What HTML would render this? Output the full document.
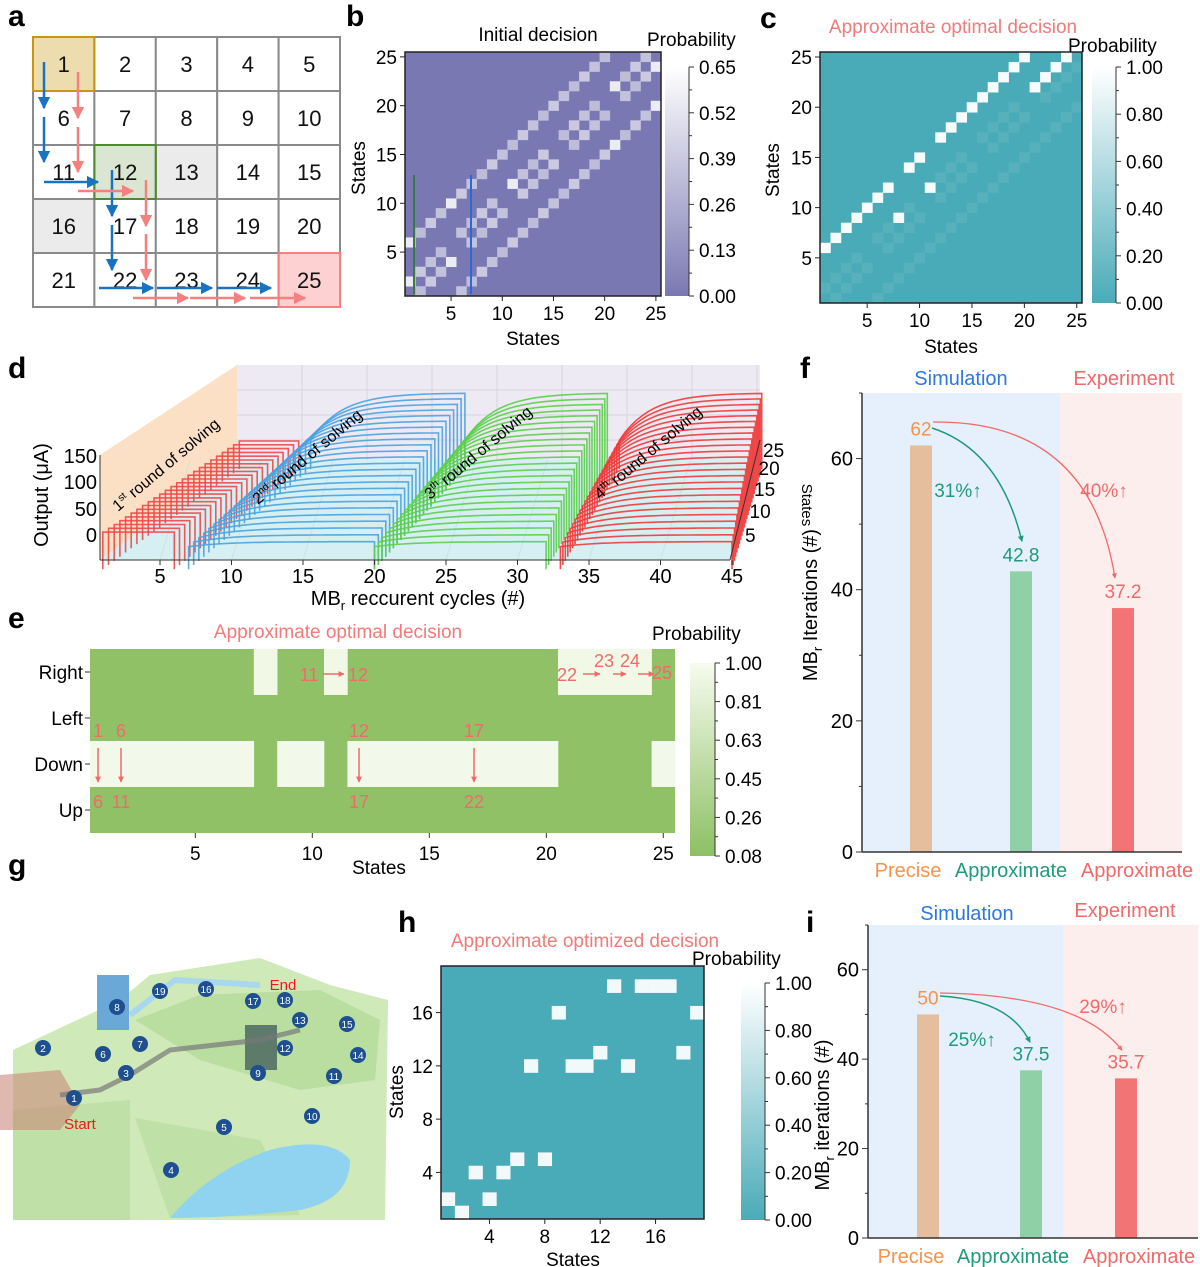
<!DOCTYPE html>
<html><head><meta charset="utf-8">
<style>
html,body{margin:0;padding:0;background:#fff}
svg{display:block;font-family:"Liberation Sans",Arial,sans-serif}
</style></head>
<body>
<svg id="fig" width="1200" height="1267" viewBox="0 0 1200 1267" xmlns="http://www.w3.org/2000/svg">
<defs>
<marker id="ab" viewBox="0 0 10 10" refX="9" refY="5" markerWidth="5" markerHeight="5" orient="auto"><path d="M0,0 L10,5 L0,10 z" fill="#1a73c0"/></marker>
<marker id="ap" viewBox="0 0 10 10" refX="9" refY="5" markerWidth="5" markerHeight="5" orient="auto"><path d="M0,0 L10,5 L0,10 z" fill="#f58080"/></marker>
<marker id="ag" viewBox="0 0 10 10" refX="9" refY="5" markerWidth="4" markerHeight="4" orient="auto"><path d="M0,0 L10,5 L0,10 z" fill="#1f9a7a"/></marker>
<marker id="ar" viewBox="0 0 10 10" refX="9" refY="5" markerWidth="4" markerHeight="4" orient="auto"><path d="M0,0 L10,5 L0,10 z" fill="#f06a6a"/></marker>
<linearGradient id="cbB" x1="0" y1="0" x2="0" y2="1"><stop offset="0" stop-color="#ffffff"/><stop offset="1" stop-color="#7a78b2"/></linearGradient>
<linearGradient id="cbC" x1="0" y1="0" x2="0" y2="1"><stop offset="0" stop-color="#ffffff"/><stop offset="1" stop-color="#4aabb8"/></linearGradient>
<linearGradient id="cbE" x1="0" y1="0" x2="0" y2="1"><stop offset="0" stop-color="#f7fbef"/><stop offset="1" stop-color="#8dc063"/></linearGradient>
</defs>

<g font-weight="bold" font-size="30" fill="#000">
<text x="8" y="26">a</text>
<text x="346" y="26">b</text>
<text x="760" y="28">c</text>
<text x="8" y="378">d</text>
<text x="8" y="628">e</text>
<text x="800" y="378">f</text>
<text x="8" y="875">g</text>
<text x="398" y="932">h</text>
<text x="806" y="932">i</text>
</g>

<g id="panelA"></g>
<g id="panelB"></g>
<g id="panelC"></g>
<g id="panelD"></g>
<g id="panelE"></g>
<g id="panelF"></g>
<g id="panelG"></g>
<g id="panelH"></g>
<g id="panelI"></g>
</svg>
<script>
const bPattern = [[2,1],[1,2],[3,2],[2,3],[4,3],[3,4],[5,4],[4,5]];
const bBright = [[1,6],[5,10],[1,2],[5,4],[11,12],[21,22],[25,24],[21,16],[25,20]];
const cBright = [[1,6],[2,7],[3,8],[4,9],[5,10],[6,11],[7,12],[8,9],[11,12],[9,14],[10,15],[12,17],[13,18],[14,19],[15,20],[16,21],[17,22],[18,23],[19,24],[20,25],[21,22],[22,23],[23,24],[24,25]];
const hCells = [[2,1],[1,2],[4,2],[3,4],[5,4],[6,5],[8,5],[7,12],[10,12],[11,12],[14,12],[12,13],[18,13],[9,16],[19,16],[13,18],[15,18],[16,18],[17,18]];
const eRight = [8,11,21,22,23,24];
const eDown = [1,2,3,4,5,6,7,9,10,12,13,14,15,16,17,18,19,20,25];
const fCats = ["Precise","Approximate","Approximate"];
const fVals = [62,42.8,37.2];
const iVals = [50,37.5,35.7];
const yTicksF = [0,20,40,60];
const yTicksI = [0,20,40,60];
const dRoundStart = [1,7,20,33];
const dRoundEnd = [6,20,32,45];
const dRoundAmp = [30,150,150,150];
const dXTicks = [5,10,15,20,25,30,35,40,45];

const NS="http://www.w3.org/2000/svg";
function mk(parent,tag,attrs,text){const e=document.createElementNS(NS,tag);for(const k in attrs)e.setAttribute(k,attrs[k]);if(text!==undefined)e.textContent=text;parent.appendChild(e);return e;}
function lerpColor(a,b,t){const pa=[1,3,5].map(i=>parseInt(a.substr(i,2),16)),pb=[1,3,5].map(i=>parseInt(b.substr(i,2),16));return "rgb("+pa.map((v,i)=>Math.round(v+(pb[i]-v)*t)).join(",")+")";}

(function(){
 const g=document.getElementById('panelA');
 const x0=33,y0=37,cw=61.4,ch=54;
 const fills={1:"#ecdcae",12:"#dbe6d2",13:"#ebebeb",16:"#ebebeb",25:"#fdd0d2"};
 for(let r=0;r<5;r++)for(let c=0;c<5;c++){
  const n=r*5+c+1;
  const rc=mk(g,'rect',{x:x0+c*cw,y:y0+r*ch,width:cw,height:ch,fill:fills[n]||"#fff",stroke:"#8a8a8a","stroke-width":2});
  
  mk(g,'text',{x:x0+c*cw+cw/2,y:y0+r*ch+ch/2+8,"text-anchor":"middle","font-size":22,fill:"#111"},n);
 }
 mk(g,'rect',{x:x0,y:y0,width:cw,height:ch,fill:"none",stroke:"#c8960f","stroke-width":2});
 mk(g,'rect',{x:x0+cw,y:y0+2*ch,width:cw,height:ch,fill:"none",stroke:"#4f8a30","stroke-width":2});
 mk(g,'rect',{x:x0+4*cw,y:y0+4*ch,width:cw,height:ch,fill:"none",stroke:"#f58080","stroke-width":2});
 const blue=[[44,62,44,108],[44,117,44,162],[44,182,98,182],[112,170,112,216],[112,225,112,270],[99,288,153,288],[157,288,212,288],[217,288,271,288]];
 const pink=[[78,72,78,118],[78,127,78,172],[78,191,133,191],[146,180,146,226],[146,234,146,280],[133,298,188,298],[190,298,245,298],[250,298,305,298]];
 blue.forEach(s=>mk(g,'line',{x1:s[0],y1:s[1],x2:s[2],y2:s[3],stroke:"#1a73c0","stroke-width":2.5,"marker-end":"url(#ab)"}));
 pink.forEach(s=>mk(g,'line',{x1:s[0],y1:s[1],x2:s[2],y2:s[3],stroke:"#f58080","stroke-width":2.5,"marker-end":"url(#ap)"}));
})();

function heat(g,n,px,py,pw,ph,cells,c0,c1,bg,name){
 mk(g,'rect',{x:px,y:py,width:pw,height:ph,fill:bg});
 const cw=pw/n,chh=ph/n;
 cells.forEach(([c,r,v])=>{
  const e=mk(g,'rect',{x:px+(c-1)*cw,y:py+ph-r*chh,width:cw+0.3,height:chh+0.3,fill:lerpColor(c0,c1,v)});
  
 });
 mk(g,'rect',{x:px,y:py,width:pw,height:ph,fill:"none",stroke:"#222","stroke-width":1.5});
}
function axisTicks(g,px,py,pw,ph,n,xt,yt,fs){
 const cw=pw/n,chh=ph/n;
 xt.forEach(t=>{const x=px+(t-0.5)*cw;mk(g,'line',{x1:x,y1:py+ph,x2:x,y2:py+ph+5,stroke:"#222"});mk(g,'text',{x:x,y:py+ph+24,"text-anchor":"middle","font-size":fs},t);});
 yt.forEach(t=>{const y=py+ph-(t-0.5)*chh;mk(g,'line',{x1:px-5,y1:y,x2:px,y2:y,stroke:"#222"});mk(g,'text',{x:px-8,y:y+7,"text-anchor":"end","font-size":fs},t);});
}
function colorbar(g,x,y,w,h,grad,labels,fs){
 mk(g,'rect',{x:x,y:y,width:w,height:h,fill:"url(#"+grad+")"});
 mk(g,'line',{x1:x+w,y1:y,x2:x+w,y2:y+h,stroke:"#333"});
 labels.forEach((l,i)=>{const yy=y+h*i/(labels.length-1);mk(g,'line',{x1:x+w,y1:yy,x2:x+w+5,y2:yy,stroke:"#333"});mk(g,'text',{x:x+w+10,y:yy+7,"font-size":fs},l);
  if(i<labels.length-1)mk(g,'line',{x1:x+w,y1:yy+h/(labels.length-1)/2,x2:x+w+3,y2:yy+h/(labels.length-1)/2,stroke:"#333"});});
}

(function(){
 const g=document.getElementById('panelB');
 const cells=[];const key=s=>s[0]+","+s[1];const bright=new Set(bBright.map(key));
 for(let k=0;k<5;k++)bPattern.forEach(([a,b])=>cells.push([5*k+a,5*k+b]));
 for(let i=1;i<=20;i++){cells.push([i,i+5]);cells.push([i+5,i]);}
 heat(g,25,405,52,256,244,cells.map(c=>[c[0],c[1],bright.has(key(c))?0.85:0.5+0.1*((c[0]+c[1])%3)/2]),"#7a78b2","#ffffff","#7a78b2","b");
 mk(g,'line',{x1:414,y1:175,x2:414,y2:294,stroke:"#3a7a3a","stroke-width":2});
 mk(g,'line',{x1:471,y1:175,x2:471,y2:294,stroke:"#2a6ad8","stroke-width":2});
 axisTicks(g,405,52,256,244,25,[5,10,15,20,25],[5,10,15,20,25],19);
 mk(g,'text',{x:533,y:345,"text-anchor":"middle","font-size":19},"States");
 mk(g,'text',{x:365,y:168,"text-anchor":"middle","font-size":19,transform:"rotate(-90 365 168)"},"States");
 mk(g,'text',{x:538,y:41,"text-anchor":"middle","font-size":19},"Initial decision");
 mk(g,'text',{x:647,y:46,"font-size":19},"Probability");
 colorbar(g,665,67,24,229,"cbB",["0.65","0.52","0.39","0.26","0.13","0.00"],19);
})();

(function(){
 const g=document.getElementById('panelC');
 const cells=[];
 for(let k=0;k<5;k++)bPattern.forEach(([a,b])=>cells.push([5*k+a,5*k+b,0.07]));
 for(let i=1;i<=20;i++)cells.push([i+5,i,0.07]);
 cBright.forEach(([a,b])=>cells.push([a,b,0.95]));
 heat(g,25,820,52,262,251,cells,"#4aabb8","#ffffff","#4aabb8","c");
 axisTicks(g,820,52,262,251,25,[5,10,15,20,25],[5,10,15,20,25],19);
 mk(g,'text',{x:951,y:353,"text-anchor":"middle","font-size":19},"States");
 mk(g,'text',{x:779,y:170,"text-anchor":"middle","font-size":19,transform:"rotate(-90 779 170)"},"States");
 mk(g,'text',{x:953,y:33,"text-anchor":"middle","font-size":19,fill:"#f27a7a"},"Approximate optimal decision");
 mk(g,'text',{x:1068,y:52,"font-size":19},"Probability");
 colorbar(g,1092,67,24,236,"cbC",["1.00","0.80","0.60","0.40","0.20","0.00"],19);
})();

(function(){
 const g=document.getElementById('panelD');
 const fx=c=>88.5+c*14.3;
 function P(c,s,u){const x0=fx(c);const t=(s-1)/24;const dx=137-(x0-100)/630*107;const sc=0.53-0.13*t;return [x0+t*dx,548-t*95-u*sc];}
 mk(g,'polygon',{points:"100,455 237,365 237,460 100,560",fill:"#fbe0c6"});
 mk(g,'polygon',{points:"237,365 760,365 760,458 237,460",fill:"#eeeaf4"});
 mk(g,'polygon',{points:"100,560 237,460 760,458 730,560",fill:"#d6eff3"});
 for(let i=1;i<9;i++){const x=237+i*65;mk(g,'line',{x1:x,y1:365,x2:x,y2:460,stroke:"#d8d4e0"});}
 [390,415,440].forEach(y=>mk(g,'line',{x1:237,y1:y,x2:760,y2:y,stroke:"#d8d4e0"}));
 dXTicks.forEach(t=>{mk(g,'line',{x1:fx(t),y1:560,x2:fx(t)+30,y2:460,stroke:"#c9dfe3","stroke-width":0.8});});
 const cols=["#f04848","#4aa3e0","#5cce4c","#f03a3a"];
 for(let r=0;r<4;r++){
  for(let s=25;s>=1;s--){
   const a=dRoundAmp[r]*(r==0?1:(0.08+0.92*(s-1)/24));
   const pts=[];const c0=dRoundStart[r],c1=dRoundEnd[r];
   pts.push(P(c0,s,-40));
   for(let c=c0;c<=c1;c+=0.5){const f=r==0?1:(1-Math.exp(-(c-c0+0.6)/2.6));pts.push(P(c,s,a*f));}
   pts.push(P(c1,s,-40));
   const e=mk(g,'polyline',{points:pts.map(p=>p.map(v=>v.toFixed(1)).join(",")).join(" "),fill:"none",stroke:cols[r],"stroke-width":1.6,opacity:0.9});
   
  }
 }
 mk(g,'line',{x1:100,y1:560,x2:730,y2:560,stroke:"#333"});
 mk(g,'line',{x1:100,y1:455,x2:100,y2:560,stroke:"#333"});
 mk(g,'line',{x1:730,y1:560,x2:760,y2:440,stroke:"#333"});
 dXTicks.forEach(t=>{mk(g,'line',{x1:fx(t),y1:560,x2:fx(t),y2:565,stroke:"#333"});mk(g,'text',{x:fx(t),y:583,"text-anchor":"middle","font-size":20},t);});
 [[0,535],[50,509],[100,482],[150,456]].forEach(([v,y])=>{mk(g,'text',{x:97,y:y+7,"text-anchor":"end","font-size":20},v);});
 [[5,535],[10,511],[15,489],[20,468],[25,450]].forEach(([v,y])=>{mk(g,'text',{x:745+(v-5)*0.9,y:y+7,"font-size":19},v);});
 mk(g,'text',{x:48,y:495,"text-anchor":"middle","font-size":20,transform:"rotate(-90 48 495)"},"Output (μA)");
 mk(g,'text',{x:802,y:505,"text-anchor":"middle","font-size":15,transform:"rotate(90 802 505)"},"States");
 const xl=mk(g,'text',{x:418,y:605,"text-anchor":"middle","font-size":20},"MB");
 mk(xl,'tspan',{"font-size":13,dy:5},"r");mk(xl,'tspan',{dy:-5}," reccurent cycles (#)");
 const lbl=[[118,512,"1"],[258,505,"2"],[430,500,"3"],[600,500,"4"]];const sup=["st","nd","th","th"];
 lbl.forEach(([x,y,n],i)=>{const t=mk(g,'text',{x:x,y:y,"font-size":16,transform:"rotate(-40 "+x+" "+y+")"},n);mk(t,'tspan',{"font-size":10,dy:-6},sup[i]);mk(t,'tspan',{dy:6}," round of solving");});
})();

(function(){
 const g=document.getElementById('panelE');
 const px=90,py=649,pw=585,ph=184,cw=pw/25,rh=ph/4;
 mk(g,'rect',{x:px,y:py,width:pw,height:ph,fill:"#90c167"});
 eRight.forEach(c=>{const e=mk(g,'rect',{x:px+(c-1)*cw,y:py,width:cw+0.3,height:rh,fill:"#f1f8e6"});});
 eDown.forEach(c=>{const e=mk(g,'rect',{x:px+(c-1)*cw,y:py+2*rh,width:cw+0.3,height:rh,fill:"#f3f9ea"});});
 ["Right","Left","Down","Up"].forEach((l,i)=>{const y=py+rh*(i+0.5);mk(g,'line',{x1:px-5,y1:y,x2:px,y2:y,stroke:"#333"});mk(g,'text',{x:px-7,y:y+7,"text-anchor":"end","font-size":19},l);});
 [5,10,15,20,25].forEach(t=>{const x=px+(t-0.5)*cw;mk(g,'line',{x1:x,y1:py+ph,x2:x,y2:py+ph+5,stroke:"#333"});mk(g,'text',{x:x,y:py+ph+27,"text-anchor":"middle","font-size":19},t);});
 mk(g,'text',{x:379,y:874,"text-anchor":"middle","font-size":19},"States");
 mk(g,'text',{x:338,y:638,"text-anchor":"middle","font-size":19,fill:"#f27a7a"},"Approximate optimal decision");
 mk(g,'text',{x:652,y:640,"font-size":19},"Probability");
 colorbar(g,690,663,25,193,"cbE",["1.00","0.81","0.63","0.45","0.26","0.08"],19);
 const pk="#f06a6a";
 const T=(x,y,s)=>mk(g,'text',{x:x,y:y,"font-size":18,fill:pk,"text-anchor":"middle"},s);
 T(98,737,"1");T(121,737,"6");T(359,737,"12");T(474,737,"17");
 T(98,808,"6");T(121,808,"11");T(359,808,"17");T(474,808,"22");
 [98,121,359,474].forEach(x=>mk(g,'line',{x1:x,y1:748,x2:x,y2:782,stroke:pk,"stroke-width":1.5,"marker-end":"url(#ar)"}));
 T(309,681,"11");T(358,681,"12");T(567,681,"22");T(604,667,"23");T(630,667,"24");T(662,679,"25");
 [[323,344],[583,600],[613,626],[638,654]].forEach(([a,b])=>mk(g,'line',{x1:a,y1:674,x2:b,y2:674,stroke:pk,"stroke-width":1.5,"marker-end":"url(#ar)"}));
})();

function bars(g,vals,px,py,pw,ph,ymax,ticks,split,barX,opts){
 const ys=v=>py+ph-v/ymax*ph;
 mk(g,'rect',{x:px,y:py,width:split-px,height:ph,fill:"#e5f0fc"});
 mk(g,'rect',{x:split,y:py,width:px+pw-split,height:ph,fill:"#fdeeee"});
 const cols=["#e5bf9d","#8fd0a6","#f27474"];
 vals.forEach((v,i)=>{const e=mk(g,'rect',{x:barX[i],y:ys(v),width:opts.bw,height:ys(0)-ys(v),fill:cols[i]});});
 mk(g,'line',{x1:px,y1:py,x2:px,y2:py+ph,stroke:"#333","stroke-width":1.5});
 mk(g,'line',{x1:px,y1:py+ph,x2:px+pw,y2:py+ph,stroke:"#333","stroke-width":1.5});
 ticks.forEach(t=>{mk(g,'line',{x1:px-6,y1:ys(t),x2:px,y2:ys(t),stroke:"#333"});mk(g,'text',{x:px-9,y:ys(t)+7,"text-anchor":"end","font-size":20},t);mk(g,'line',{x1:px-3,y1:ys(t+10),x2:px,y2:ys(t+10),stroke:"#333"});});
 const lc=["#f5934a","#1f9a7a","#f06a6a"];
 fCats.forEach((c,i)=>mk(g,'text',{x:opts.catX[i],y:py+ph+25,"text-anchor":"middle","font-size":20,fill:lc[i]},c));
 vals.forEach((v,i)=>{const x=barX[i]+opts.bw/2;mk(g,'text',{x:x,y:ys(v)-10,"text-anchor":"middle","font-size":19,fill:lc[i]},v);});
 return ys;
}

(function(){
 const g=document.getElementById('panelF');
 const bx=[910,1010,1112];
 const ys=bars(g,fVals,862,393,320,459,70,yTicksF,1060,bx,{bw:22,catX:[908,1011,1137]});
 mk(g,'text',{x:961,y:385,"text-anchor":"middle","font-size":20,fill:"#2c78e0"},"Simulation");
 mk(g,'text',{x:1124,y:385,"text-anchor":"middle","font-size":20,fill:"#f06a6a"},"Experiment");
 const yl=mk(g,'text',{x:817,y:605,"text-anchor":"middle","font-size":20,transform:"rotate(-90 817 605)"},"MB");
 mk(yl,'tspan',{"font-size":13,dy:5},"r");mk(yl,'tspan',{dy:-5}," Iterations (#)");
 mk(g,'path',{d:"M932,428 Q1000,450 1022," + (ys(fVals[1])-30),fill:"none",stroke:"#1f9a7a","stroke-width":1.5,"marker-end":"url(#ag)"});
 mk(g,'path',{d:"M933,422 Q1090,420 1115," + (ys(fVals[2])-30),fill:"none",stroke:"#f06a6a","stroke-width":1.3,"marker-end":"url(#ar)"});
 mk(g,'text',{x:958,y:497,"text-anchor":"middle","font-size":19,fill:"#1f9a7a"},"31%↑");
 mk(g,'text',{x:1104,y:497,"text-anchor":"middle","font-size":19,fill:"#f06a6a"},"40%↑");
})();

(function(){
 const g=document.getElementById('panelI');
 const bx=[917,1020,1115];
 const ys=bars(g,iVals,868,925,330,313,70,yTicksI,1063,bx,{bw:22,catX:[911,1013,1139]});
 mk(g,'text',{x:967,y:920,"text-anchor":"middle","font-size":20,fill:"#2c78e0"},"Simulation");
 mk(g,'text',{x:1125,y:917,"text-anchor":"middle","font-size":20,fill:"#f06a6a"},"Experiment");
 const yl=mk(g,'text',{x:829,y:1115,"text-anchor":"middle","font-size":20,transform:"rotate(-90 829 1115)"},"MB");
 mk(yl,'tspan',{"font-size":13,dy:5},"r");mk(yl,'tspan',{dy:-5}," iterations (#)");
 mk(g,'path',{d:"M940,996 Q1010,1000 1030,"+(ys(iVals[1])-28),fill:"none",stroke:"#1f9a7a","stroke-width":1.5,"marker-end":"url(#ag)"});
 mk(g,'path',{d:"M940,993 Q1080,995 1122,"+(ys(iVals[2])-28),fill:"none",stroke:"#f06a6a","stroke-width":1.3,"marker-end":"url(#ar)"});
 mk(g,'text',{x:972,y:1046,"text-anchor":"middle","font-size":19,fill:"#1f9a7a"},"25%↑");
 mk(g,'text',{x:1103,y:1013,"text-anchor":"middle","font-size":19,fill:"#f06a6a"},"29%↑");
})();

(function(){
 const g=document.getElementById('panelH');
 heat(g,19,441,966,263,253,hCells.map(c=>[c[0],c[1],0.93]),"#4aabb8","#ffffff","#4aabb8","h");
 axisTicks(g,441,966,263,253,19,[4,8,12,16],[4,8,12,16],19);
 mk(g,'text',{x:573,y:1266,"text-anchor":"middle","font-size":19},"States");
 mk(g,'text',{x:403,y:1092,"text-anchor":"middle","font-size":19,transform:"rotate(-90 403 1092)"},"States");
 mk(g,'text',{x:585,y:947,"text-anchor":"middle","font-size":19,fill:"#f27a7a"},"Approximate optimized decision");
 mk(g,'text',{x:692,y:965,"font-size":19},"Probability");
 colorbar(g,741,983,24,237,"cbC",["1.00","0.80","0.60","0.40","0.20","0.00"],19);
})();

(function(){
 const g=document.getElementById('panelG');
 mk(g,'polygon',{points:"13,1050 120,1000 150,975 260,958 330,985 388,1000 385,1220 13,1220",fill:"#cfe9b8"});
 mk(g,'polygon',{points:"13,1110 130,1100 130,1220 13,1220",fill:"#bfe0a6"});
 mk(g,'polygon',{points:"135,1118 260,1140 300,1215 170,1218",fill:"#bfe0a6"});
 mk(g,'polygon',{points:"135,1020 200,995 320,990 380,1020 375,1080 300,1090 200,1060",fill:"#b9dea0"});
 mk(g,'path',{d:"M170,1218 Q210,1170 270,1150 Q330,1135 350,1160 Q350,1200 300,1210 Q230,1218 170,1218 z",fill:"#8fd3f0"});
 mk(g,'path',{d:"M130,1015 L175,980 L260,985",fill:"none",stroke:"#a9d7ee","stroke-width":6});
 mk(g,'rect',{x:97,y:975,width:32,height:55,fill:"#6aa8d8"});
 mk(g,'rect',{x:245,y:1025,width:32,height:45,fill:"#5e7a6a"});
 mk(g,'polygon',{points:"0,1075 60,1070 80,1105 60,1130 0,1130",fill:"#c98a7a",opacity:0.6});
 mk(g,'polyline',{points:"60,1095 100,1090 130,1075 170,1050 260,1040 300,1030",fill:"none",stroke:"#777","stroke-width":5,opacity:0.7});
 const nodes=[[1,74,1098],[2,43,1048],[3,126,1073],[4,171,1170],[5,224,1127],[6,103,1054],[7,140,1044],[8,117,1007],[9,258,1073],[10,312,1116],[11,334,1076],[12,285,1048],[13,300,1020],[14,358,1055],[15,347,1024],[16,206,989],[17,253,1001],[18,285,1000],[19,160,991]];
 nodes.forEach(([n,x,y])=>{const c=mk(g,'circle',{cx:x,cy:y,r:8,fill:"#1e4f8f"});mk(g,'text',{x:x,y:y+4,"text-anchor":"middle","font-size":10,fill:"#fff"},n);});
 mk(g,'text',{x:80,y:1129,"text-anchor":"middle","font-size":15,fill:"#f01818"},"Start");
 mk(g,'text',{x:283,y:990,"text-anchor":"middle","font-size":15,fill:"#f01818"},"End");
})();
</script>
</body></html>
